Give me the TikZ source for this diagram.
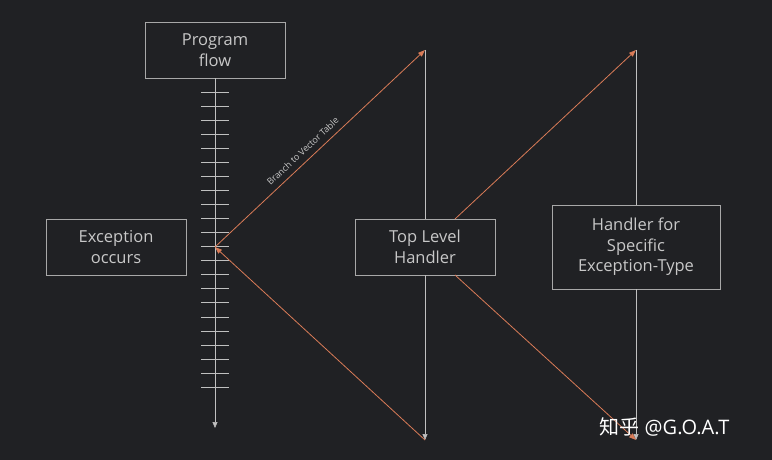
\documentclass[tikz,border=0pt]{standalone}
\usepackage{fontspec}
\setmainfont{Open Sans}
\newfontfamily\cjk{Noto Sans CJK SC}
\begin{document}
\begin{tikzpicture}[x=1pt,y=-1pt,
  box/.style={draw=boxgray,line width=0.8pt,text=textgray,align=center,font=\fontsize{16.5}{20.5}\selectfont,inner sep=0pt},
  flow/.style={draw=linegray,line width=0.6pt,-{Triangle[length=6pt,width=5pt]}},
  orange/.style={draw=orangec,line width=0.8pt,-{Triangle[length=7pt,width=5pt]}}]
\usetikzlibrary{arrows.meta}
\definecolor{bg}{HTML}{202124}
\definecolor{boxgray}{HTML}{A8A8A8}
\definecolor{linegray}{HTML}{C0C0C0}
\definecolor{textgray}{HTML}{C8C8C8}
\definecolor{orangec}{HTML}{D97B57}
\fill[bg] (0,0) rectangle (772,460);
\useasboundingbox (0,0) rectangle (772,460);
\node[box,minimum width=140pt,minimum height=56pt] (pf) at (215,50) {Program\\flow};
\node[box,minimum width=140pt,minimum height=56pt] (ex) at (116,247) {Exception\\occurs};
\node[box,minimum width=140pt,minimum height=56pt] (tl) at (425,247) {Top Level\\Handler};
\node[box,minimum width=168pt,minimum height=84pt] (sp) at (636,247) {Handler for\\Specific\\Exception-Type};
\coordinate (pfend) at (215,428);
\coordinate (exc) at (215,247);
\coordinate (tltop) at (425,50);
\coordinate (tlbot) at (425,440);
\coordinate (sptop) at (636,50);
\coordinate (spbot) at (636,440);
\coordinate (tlne) at (455,219);
\coordinate (tlse) at (455,275);
\draw[flow] (pf.south) -- (pfend);
\foreach \i in {0,...,21} \draw[linegray,line width=0.6pt] (201,92+14.05*\i) -- (229,92+14.05*\i);
\draw[linegray,line width=0.6pt] (tltop) -- (tl.north);
\draw[flow] (tl.south) -- (tlbot);
\draw[linegray,line width=0.6pt] (sptop) -- (sp.north);
\draw[flow] (sp.south) -- (spbot);
\draw[orange] (exc) -- node[pos=0.45,sloped,above,text=textgray,font=\fontsize{9}{10}\selectfont,inner sep=6pt]{Branch to Vector Table} (tltop);
\draw[orange] (tlbot) -- (exc);
\draw[orange] (tlne) -- (sptop);
\draw[orange] (tlse) -- (spbot);
\node[text=white,anchor=west,font=\fontsize{20}{24}\selectfont] (wm) at (596,427) {{\cjk 知乎} @G.O.A.T};
\end{tikzpicture}
\end{document}
